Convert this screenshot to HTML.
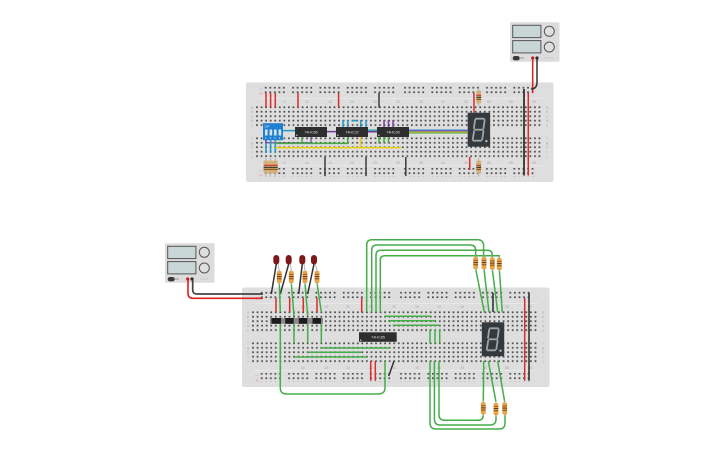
<!DOCTYPE html>
<html><head><meta charset="utf-8">
<style>html,body{margin:0;padding:0;background:#fff;width:725px;height:453px;overflow:hidden}svg{display:block}text{font-family:"Liberation Sans",sans-serif}</style>
</head><body>
<svg width="725" height="453" viewBox="0 0 725 453" xmlns="http://www.w3.org/2000/svg" fill="none">
<defs>
<pattern id="hm" patternUnits="userSpaceOnUse" x="254.72" y="105.05" width="4.556" height="4.45"><rect x="1.4" y="1.35" width="1.75" height="1.75" fill="#4d4d4d"/></pattern>
<pattern id="hm2" patternUnits="userSpaceOnUse" x="254.72" y="136.1" width="4.556" height="4.45"><rect x="1.4" y="1.35" width="1.75" height="1.75" fill="#4d4d4d"/></pattern>
<pattern id="hr" patternUnits="userSpaceOnUse" x="263.42" y="0" width="27.336" height="4.5"><g fill="#4d4d4d"><rect x="1.4" y="1.35" width="1.75" height="1.75"/><rect x="5.96" y="1.35" width="1.75" height="1.75"/><rect x="10.5" y="1.35" width="1.75" height="1.75"/><rect x="15.07" y="1.35" width="1.75" height="1.75"/><rect x="19.62" y="1.35" width="1.75" height="1.75"/></g></pattern>
<pattern id="hr2" patternUnits="userSpaceOnUse" x="402.72" y="0" width="27.336" height="4.5"><g fill="#4d4d4d"><rect x="1.4" y="1.35" width="1.75" height="1.75"/><rect x="5.96" y="1.35" width="1.75" height="1.75"/><rect x="10.5" y="1.35" width="1.75" height="1.75"/><rect x="15.07" y="1.35" width="1.75" height="1.75"/><rect x="19.62" y="1.35" width="1.75" height="1.75"/></g></pattern>
<g id="board">
<rect x="246" y="82.5" width="307.5" height="99.5" rx="2" fill="#dedede"/>
<path d="M259 98.5H542M259 165.5H542" stroke="#ececec" stroke-width=".7"/>
<rect x="254.72" y="105.05" width="287" height="22.25" fill="url(#hm)"/>
<rect x="254.72" y="136.1" width="287" height="22.25" fill="url(#hm2)"/>
<rect x="263.42" y="86.5" width="136.7" height="9" fill="url(#hr)"/>
<rect x="402.72" y="86.5" width="133" height="9" fill="url(#hr2)"/>
<rect x="263.42" y="168" width="136.7" height="9" fill="url(#hr)"/>
<rect x="402.72" y="168" width="133" height="9" fill="url(#hr2)"/>
<g font-size="3.6" fill="#a9a9a9" text-anchor="middle">
<text x="284.5" y="103">5</text><text x="307" y="103">10</text><text x="330" y="103">15</text><text x="352" y="103">20</text><text x="375" y="103">25</text><text x="398" y="103">30</text><text x="421" y="103">35</text><text x="443" y="103">40</text><text x="466" y="103">45</text><text x="489" y="103">50</text><text x="511" y="103">55</text><text x="534" y="103">60</text>
<text x="284.5" y="164">5</text><text x="307" y="164">10</text><text x="330" y="164">15</text><text x="352" y="164">20</text><text x="375" y="164">25</text><text x="398" y="164">30</text><text x="421" y="164">35</text><text x="443" y="164">40</text><text x="466" y="164">45</text><text x="489" y="164">50</text><text x="511" y="164">55</text><text x="534" y="164">60</text>
<text x="547" y="108.5">a</text><text x="547" y="113">b</text><text x="547" y="117.5">c</text><text x="547" y="122">d</text><text x="547" y="126.5">e</text><text x="547" y="139.5">f</text><text x="547" y="144">g</text><text x="547" y="148.5">h</text><text x="547" y="153">i</text><text x="547" y="157.5">j</text>
<text x="252" y="108.5">a</text><text x="252" y="113">b</text><text x="252" y="117.5">c</text><text x="252" y="122">d</text><text x="252" y="126.5">e</text><text x="252" y="139.5">f</text><text x="252" y="144">g</text><text x="252" y="148.5">h</text><text x="252" y="153">i</text><text x="252" y="157.5">j</text>
</g>
<path d="M259 89H263M259 170.5H263" stroke="#9fc3dc" stroke-width=".6"/>
<path d="M259 93.5H263M261 91.5V95.5M259 175.5H263M261 173.5V177.5" stroke="#e8a9a9" stroke-width=".6"/>
</g>
<g id="ps">
<rect x="510" y="22.3" width="49.5" height="39.5" rx="1" fill="#dcdcdc"/>
<rect x="512.7" y="25.3" width="28.2" height="12.3" fill="#c9d6d6" stroke="#555" stroke-width="1"/>
<rect x="512.7" y="40.6" width="28.2" height="12.3" fill="#c9d6d6" stroke="#555" stroke-width="1"/>
<circle cx="549.3" cy="31.3" r="5" fill="#dfdfdf" stroke="#555" stroke-width="1"/>
<circle cx="549.3" cy="47" r="5" fill="#dfdfdf" stroke="#555" stroke-width="1"/>
<rect x="512.7" y="56" width="7" height="4.4" rx="2.2" fill="#3a3a3a"/>
<rect x="520" y="57.3" width="4" height="1.4" fill="#aaa"/>
<rect x="545" y="57.3" width="9" height="1.4" fill="#cfcfcf"/>
</g>
<g id="r1">
<path d="M0 -9V9" stroke="#aaa" stroke-width=".8"/>
<rect x="-2.4" y="-6.5" width="4.8" height="13" rx="1.3" fill="#d2b078"/>
<rect x="-2.4" y="-2.2" width="4.8" height="1" fill="#c62828"/>
<rect x="-2.4" y="-.2" width="4.8" height="1" fill="#222"/>
<rect x="-2.4" y="1.8" width="4.8" height="1" fill="#7a3d10"/>
</g>
<g id="r2">
<path d="M0 -8V8" stroke="#aaa" stroke-width=".8"/>
<rect x="-2.4" y="-6" width="4.8" height="12" rx="1.3" fill="#e8a548"/>
<rect x="-2.4" y="-3.2" width="4.8" height="1.1" fill="#a0622a"/>
<rect x="-2.4" y="-1" width="4.8" height="1.1" fill="#6b3d16"/>
<rect x="-2.4" y="1.2" width="4.8" height="1.1" fill="#8a5520"/>
</g>
<g id="seg">
<rect width="22.4" height="34" fill="#33393c"/>
<g stroke="#a0a4a6" stroke-width="1.8" stroke-linecap="round">
<path d="M8.2 6H16.2M7.4 17H15.2M5.6 28H13.4"/>
<path d="M7.4 7.2L6.2 15.6M6.4 18.4L5 26.8M17 7.2L15.8 15.6M15.8 18.4L14.5 26.8"/>
</g>
<circle cx="18.7" cy="28.4" r="1.2" fill="#b4b8ba"/>
</g>
<g id="ic">
<rect width="32" height="10" fill="#2e2e2e"/>
<rect x="1.2" y="7.6" width="1.3" height="1.3" fill="#ccc"/>
</g>
</defs>

<use href="#board"/>
<use href="#board" transform="translate(-4,205)"/>
<use href="#ps"/>
<use href="#ps" transform="translate(-345,221)"/>

<!-- TOP BOARD WIRES -->
<g stroke-width="1.5">
<path d="M266 93V107.5M270.6 93V107.5M275.3 93V107.5M298 93V107.5M338.6 93V107.5" stroke="#d92c2c"/>
<path d="M379 93V107.5" stroke="#3b3b3b"/>
<path d="M325 157V176M366 157V176M405.8 157V176" stroke="#3b3b3b"/>
<path d="M474 93V112.5M469.7 157V170" stroke="#d92c2c"/>
<path d="M528.3 93V175.5" stroke="#d92c2c"/>
<path d="M524 89V175.5" stroke="#333" stroke-width="1.8"/>
<path d="M532.7 58V93" stroke="#e02020"/>
<path d="M537 58V82Q537 89 531 89" stroke="#333"/>
<path d="M283 130.6H295M343 120V127M347.7 120V127M360.7 120V127M366 120V127" stroke="#1e9ac4"/>
<path d="M351.5 120.6H357.5" stroke="#1e9ac4"/>
<path d="M384 120V127M388.4 120V127M393 120V127" stroke="#7b3fa0"/>
<path d="M327 131.6H336M368 131.8H377" stroke="#6e3a9c"/>
<path d="M368 130.2H377" stroke="#2fa9b0"/>
<path d="M409 130H467.5" stroke="#2e86d0" stroke-width="1"/>
<path d="M409 131H467.5" stroke="#8d4fae" stroke-width="1"/>
<path d="M409 132H467.5" stroke="#d9c42a" stroke-width="1"/>
<path d="M409 133H467.5" stroke="#43a83f" stroke-width="1"/>
<path d="M266 139V143" stroke="#6e3a9c"/>
<path d="M266 142.8H311M311 137V143" stroke="#6e3a9c" stroke-width="1.1"/>
<path d="M266 143V153M270.6 140V153M275.3 140V153" stroke="#1e9ac4"/>
<path d="M275.3 143.4H347.7M302 137V143.4M347.7 137V143.4M379 137V143.4M384 137V143.4M388.4 137V143.4" stroke="#43a83f"/>
<path d="M275.3 147.7H401M360.7 137V147.7" stroke="#e6cc1e" stroke-width="1.7"/>
</g>
<rect x="263" y="123.2" width="20" height="17" fill="#1f7fd1"/>
<g fill="#d6e4ef"><rect x="265" y="129.5" width="2.6" height="6"/><rect x="269.6" y="129.5" width="2.6" height="6"/><rect x="274" y="129.5" width="2.6" height="6"/><rect x="278.6" y="129.5" width="2.6" height="6"/></g>
<g font-size="3" fill="#e4eff8"><text x="264.5" y="127.5">DIP</text><text x="265" y="139">1</text><text x="269.6" y="139">2</text><text x="274" y="139">3</text><text x="278.6" y="139">4</text></g>
<use href="#ic" x="295" y="127"/><use href="#ic" x="336" y="127"/><use href="#ic" x="377" y="127"/>
<g font-size="3.6" fill="#dcdcdc" text-anchor="middle"><text x="311" y="133.3">74HC86</text><text x="352" y="133.3">74HC32</text><text x="393" y="133.3">74HC08</text></g>
<use href="#seg" x="467.7" y="112.7"/>
<use href="#r1" x="266" y="167"/><use href="#r1" x="270.6" y="167"/><use href="#r1" x="275.3" y="167"/>
<use href="#r1" x="478.7" y="97"/><use href="#r1" x="478.7" y="167"/>

<!-- BOTTOM BOARD WIRES -->
<g stroke-width="1.5">
<path d="M192.7 279V290Q192.7 294 197 294H263" stroke="#444" stroke-width="1.7"/>
<path d="M188 279V293Q188 298.3 193 298.3H263" stroke="#e02020" stroke-width="1.6"/>
<path d="M276 298V312M289.7 298V312M303.3 298V312M317 298V312M361.7 298V312.3M370.7 361V380.7M375.3 361V380.7" stroke="#d92c2c"/>
<path d="M524.7 298V380.7" stroke="#d92c2c"/>
<path d="M529 293V380.7M493 293V312" stroke="#333" stroke-width="1.6"/>
<path d="M276.3 264L271.3 294M288.7 264L280.3 294M302.3 264L298.7 294M314 264L307.7 294M394 361L388.7 376" stroke="#333"/>
<g stroke="#44ad4a">
<path d="M279.3 283L280.3 312M291.3 283L294 316M305 283L307.7 316M317 283L321.3 312"/>
<path d="M280.3 324V388Q280.3 394 287 394H378Q385 394 385 388V361"/>
<path d="M294 324V343M307.7 324V343M321.3 324V343"/>
<path d="M321.3 348H390M307.7 352.3H362M294 357H367"/>
<path d="M366.7 312V245Q366.7 239.7 372 239.7H478Q483 239.7 483.6 245V258"/>
<path d="M371.7 312V250Q371.7 245 377 245H470Q475.5 245 475.7 250V258"/>
<path d="M376 312V255Q376 250.3 381 250.3H487Q492.3 250.3 492.3 255V258"/>
<path d="M380.3 312V260Q380.3 255.7 385 255.7H499.3V258"/>
<path d="M475.7 269L484.3 312.3M484 269L489 312.3M492.3 269L497.7 312.3M499.3 269L502.3 312.3"/>
<path d="M384 316.3H430.7M388 320.7H435M392.7 325.3H439.7"/>
<path d="M430 329.3V343.3M435 329.3V343.3M439.7 329.3V343.3"/>
<path d="M430 361V423Q430 429 436 429H499Q505 429 505 423V414"/>
<path d="M434.4 361V419Q434.4 425 440 425H490Q496 425 496 419V414"/>
<path d="M439 361V415Q439 420.3 445 420.3H478Q483.3 420.3 483.3 415V414"/>
<path d="M483.3 402L483.7 361M496 402L488.3 361M504.7 402L497.7 361"/>
</g>
</g>
<rect x="270" y="318" width="53" height="5.8" fill="#8a8a8a"/>
<g fill="#1d1d1d">
<rect x="271.5" y="318" width="9.5" height="5.8"/><rect x="285.2" y="318" width="8.5" height="5.8"/><rect x="298.8" y="318" width="8.5" height="5.8"/><rect x="312.5" y="318" width="8.5" height="5.8"/>
</g>
<rect x="359" y="332.3" width="37.7" height="9.5" fill="#2e2e2e"/>
<rect x="360" y="339.6" width="1.3" height="1.3" fill="#ccc"/>
<text x="378" y="338.6" font-size="3.8" fill="#dcdcdc" text-anchor="middle">74HC85</text>
<use href="#seg" x="481.8" y="322.3"/>

<g fill="#7c1a1a"><rect x="273.3" y="255" width="6" height="9.5" rx="3"/><rect x="285.7" y="255" width="6" height="9.5" rx="3"/><rect x="299.3" y="255" width="6" height="9.5" rx="3"/><rect x="311" y="255" width="6" height="9.5" rx="3"/></g>
<path d="M278 264L279.3 271M290.5 264L291.3 271M304 264L305 271M315.5 264L317 271" stroke="#aaa" stroke-width=".8"/>
<use href="#r2" x="279.3" y="277"/><use href="#r2" x="291.3" y="277"/><use href="#r2" x="305" y="277"/><use href="#r2" x="317" y="277"/>
<use href="#r2" x="475.7" y="263"/><use href="#r2" x="484" y="263"/><use href="#r2" x="492.3" y="263.5"/><use href="#r2" x="499.3" y="264"/>
<use href="#r2" x="483.3" y="408.3"/><use href="#r2" x="496" y="409"/><use href="#r2" x="504.7" y="408.5"/>

<g><circle cx="532.7" cy="58" r="1.6" fill="#c81e1e"/><circle cx="537" cy="58" r="1.6" fill="#2b2b2b"/><circle cx="187.7" cy="279" r="1.6" fill="#c81e1e"/><circle cx="192" cy="279" r="1.6" fill="#2b2b2b"/></g>
</svg>
</body></html>
